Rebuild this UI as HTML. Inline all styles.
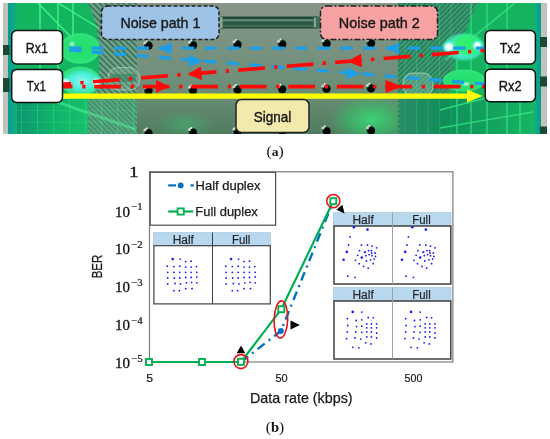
<!DOCTYPE html>
<html><head><meta charset="utf-8">
<style>
html,body{margin:0;padding:0;background:#fff;}
body{width:550px;height:439px;overflow:hidden;position:relative;}
svg{position:absolute;left:0;top:0;display:block;}
.s{font-family:"Liberation Sans",sans-serif;}
.r{font-family:"Liberation Serif",serif;}
</style></head><body>
<svg width="550" height="439" viewBox="0 0 550 439">
<defs>
  <clipPath id="ph"><rect x="3" y="3" width="544" height="131"/></clipPath>
  <pattern id="hatchL" width="4.2" height="4.2" patternUnits="userSpaceOnUse" patternTransform="rotate(-45)">
    <rect width="4.2" height="4.2" fill="#72a088"/>
    <rect width="1.7" height="4.2" fill="#3a7459"/>
  </pattern>
  <pattern id="hatchL2" width="3.6" height="3.6" patternUnits="userSpaceOnUse" patternTransform="rotate(-45)">
    <rect width="3.6" height="3.6" fill="#5aa882"/>
    <rect width="1.4" height="3.6" fill="#3a8a66"/>
  </pattern>
  <pattern id="hatchR" width="3.6" height="3.6" patternUnits="userSpaceOnUse" patternTransform="rotate(45)">
    <rect width="3.6" height="3.6" fill="#3d9c72"/>
    <rect width="1.5" height="3.6" fill="#257a58"/>
  </pattern>
  <pattern id="gridR" width="11.5" height="40" patternUnits="userSpaceOnUse" x="2">
    <rect width="1" height="40" fill="#50f098" opacity=".35"/>
  </pattern>
  <pattern id="grid" width="16" height="12" patternUnits="userSpaceOnUse" x="5" y="2">
    <rect width="1" height="12" fill="#40f08a" opacity=".35"/>
    <rect width="16" height="1" fill="#40f08a" opacity=".18"/>
  </pattern>
  <pattern id="diagL" width="40" height="40" patternUnits="userSpaceOnUse" patternTransform="rotate(40)">
    <rect width="1.5" height="40" fill="#50ff90" opacity=".6"/>
  </pattern>
  <pattern id="diagR" width="34" height="34" patternUnits="userSpaceOnUse" patternTransform="rotate(-35)">
    <rect width="1.5" height="34" fill="#50ff90" opacity=".55"/>
  </pattern>
  <linearGradient id="lowL" x1="0" y1="0" x2="1" y2="0">
    <stop offset="0" stop-color="#0b8a78"/><stop offset=".2" stop-color="#0c9870"/><stop offset=".6" stop-color="#10b46a"/><stop offset="1" stop-color="#16c06c"/>
  </linearGradient>
  <linearGradient id="lowR" x1="0" y1="0" x2="1" y2="0">
    <stop offset="0" stop-color="#2a8a66"/><stop offset=".35" stop-color="#0f8f5a"/><stop offset="1" stop-color="#17b664"/>
  </linearGradient>
  <linearGradient id="tealL" x1="0" y1="0" x2="1" y2="0">
    <stop offset="0" stop-color="#0a9c98"/><stop offset="1" stop-color="#12b07a"/>
  </linearGradient>
  <linearGradient id="tealR" x1="0" y1="0" x2="1" y2="0">
    <stop offset="0" stop-color="#12b27a"/><stop offset="1" stop-color="#0a9a92"/>
  </linearGradient>
  <radialGradient id="glow" cx="50%" cy="50%" r="50%">
    <stop offset="0" stop-color="#ffffff"/>
    <stop offset=".4" stop-color="#e8fffa"/>
    <stop offset=".7" stop-color="#60f5e0" stop-opacity=".8"/>
    <stop offset="1" stop-color="#30e8b0" stop-opacity="0"/>
  </radialGradient>
  <radialGradient id="gblob" cx="50%" cy="50%" r="50%">
    <stop offset="0" stop-color="#22dc6c"/>
    <stop offset=".8" stop-color="#28e272"/>
    <stop offset=".92" stop-color="#40ec88" stop-opacity=".8"/>
    <stop offset="1" stop-color="#30e07a" stop-opacity="0"/>
  </radialGradient>
  <radialGradient id="gblobB" cx="50%" cy="50%" r="50%">
    <stop offset="0" stop-color="#2ef06e"/>
    <stop offset=".7" stop-color="#2ef06e" stop-opacity=".9"/>
    <stop offset="1" stop-color="#2ef06e" stop-opacity="0"/>
  </radialGradient>
  <radialGradient id="cblob" cx="50%" cy="50%" r="50%">
    <stop offset="0" stop-color="#8ff8ee"/>
    <stop offset=".55" stop-color="#4ef0dc"/>
    <stop offset=".8" stop-color="#40e8c0" stop-opacity=".8"/>
    <stop offset="1" stop-color="#40e0b0" stop-opacity="0"/>
  </radialGradient>
  <radialGradient id="gglow2" cx="50%" cy="50%" r="50%">
    <stop offset="0" stop-color="#3ad874" stop-opacity=".95"/>
    <stop offset=".5" stop-color="#34c86c" stop-opacity=".6"/>
    <stop offset="1" stop-color="#30c068" stop-opacity="0"/>
  </radialGradient>
  <radialGradient id="gglow" cx="50%" cy="50%" r="50%">
    <stop offset="0" stop-color="#30d878" stop-opacity=".7"/>
    <stop offset="1" stop-color="#30d878" stop-opacity="0"/>
  </radialGradient>
  <linearGradient id="plate" x1="0" y1="0" x2="0" y2="1">
    <stop offset="0" stop-color="#879588"/>
    <stop offset=".3" stop-color="#7a9282"/>
    <stop offset=".55" stop-color="#70907a"/>
    <stop offset=".75" stop-color="#668a70"/>
    <stop offset="1" stop-color="#4f7c5e"/>
  </linearGradient>
  <linearGradient id="plateH" x1="0" y1="0" x2="1" y2="0">
    <stop offset="0" stop-color="#000" stop-opacity="0"/>
    <stop offset="1" stop-color="#000" stop-opacity="0"/>
  </linearGradient>
</defs>

<!-- ============ PHOTO ============ -->
<g clip-path="url(#ph)">
  <rect x="3" y="3" width="544" height="131" fill="url(#plate)"/>
  <rect x="3" y="3" width="544" height="131" fill="url(#plateH)"/>
  <!-- green glow on plate bottom right -->
  <ellipse cx="372" cy="120" rx="44" ry="26" fill="url(#gglow2)"/>
  <ellipse cx="185" cy="125" rx="30" ry="15" fill="url(#gglow)" opacity=".5"/>
  <!-- left hatched zone -->
  <path d="M84 3 H137 V134 H80 Z" fill="url(#hatchL)"/>
  <!-- left green upper -->
  <path d="M3 3 H88 C96 20 100 40 99 60 C100 75 98 90 92 100 L3 100 Z" fill="#14b561"/>
  <g stroke="#44ff8c" stroke-width="1.4" opacity=".85" fill="none">
    <line x1="40" y1="3" x2="40" y2="100"/><line x1="58" y1="3" x2="58" y2="100"/><line x1="73" y1="3" x2="73" y2="40"/>
    <line x1="38" y1="3" x2="72" y2="38"/><line x1="58" y1="3" x2="99" y2="28"/><line x1="15" y1="60" x2="45" y2="30"/>
  </g>
  
  <!-- left lower -->
  <rect x="3" y="98" width="86" height="36" fill="url(#lowL)"/>
  <rect x="88" y="98" width="49" height="36" fill="url(#hatchL2)"/>
  <path d="M50 98 L136 128 L136 131 L50 101 Z" fill="#5cff9c" opacity=".45"/>
  <rect x="3" y="98" width="134" height="36" fill="url(#grid)"/>
  <rect x="8" y="3" width="9" height="131" fill="url(#tealL)"/>
  <rect x="3" y="3" width="5" height="131" fill="#c0c4bc"/>
  <rect x="3" y="45" width="6.5" height="10" fill="#1a4a34"/>
  <rect x="3" y="78" width="6.5" height="14" fill="#1a4a34"/>
  <!-- right hatched zone -->
  <path d="M398 3 H478 C466 30 452 60 448 100 L446 134 H398 Z" fill="url(#hatchR)"/>
  <!-- right green -->
  <path d="M478 3 H547 V134 H444 C448 100 452 60 466 30 Z" fill="#15b35f"/>
  <rect x="400" y="98" width="135" height="36" fill="url(#lowR)"/>

  <g stroke="#3cf58a" stroke-width="1.3" opacity=".7" fill="none">
    <line x1="471" y1="3" x2="471" y2="134"/><line x1="487" y1="3" x2="487" y2="134"/><line x1="507" y1="3" x2="507" y2="134"/><line x1="457" y1="60" x2="457" y2="134"/><line x1="520" y1="95" x2="520" y2="134"/>
    <line x1="445" y1="60" x2="515" y2="3"/><line x1="440" y1="128" x2="533" y2="112"/><line x1="440" y1="110" x2="490" y2="97"/>
  </g>
  <rect x="398" y="3" width="60" height="131" fill="url(#gridR)" opacity=".6"/>
  <rect x="534" y="3" width="7" height="131" fill="url(#tealR)"/>
  <rect x="541" y="3" width="6" height="131" fill="#c0c4bc"/>
  <rect x="540" y="37" width="7" height="10" fill="#1a4a34"/>
  <rect x="540" y="76.5" width="7" height="10" fill="#1a4a34"/>
  <rect x="540" y="126.5" width="7" height="8" fill="#1a4a34"/>
  <!-- rod -->
  <rect x="220" y="16.6" width="98" height="12" rx="1" fill="#1f4c38"/>
  <rect x="221" y="19.2" width="96" height="2.2" fill="#6a8c7a"/>
  <rect x="221" y="22" width="96" height="3.2" fill="#2b5a44"/>
  <rect x="221" y="25.4" width="96" height="1.2" fill="#5a7d6a"/>
  <rect x="220" y="17" width="2.5" height="11" fill="#8aa898"/>
  <rect x="313" y="16.6" width="7" height="12" fill="#3d6e58"/><rect x="314" y="18" width="2" height="9" fill="#9ac0aa" opacity=".7"/>
  <!-- LED glows left -->
  <ellipse cx="80" cy="48.5" rx="21" ry="16" fill="url(#gblob)"/>
  <ellipse cx="80" cy="81" rx="21" ry="15" fill="url(#gblob)"/>
  <ellipse cx="82" cy="81.5" rx="21" ry="13.5" fill="url(#cblob)"/>
  <ellipse cx="66" cy="83" rx="7" ry="6.5" fill="url(#glow)"/>
  <ellipse cx="96" cy="82" rx="6" ry="6" fill="url(#glow)"/>
  <ellipse cx="72" cy="44" rx="4" ry="4" fill="url(#glow)" opacity=".5"/>
  <!-- LED glows right -->
  <ellipse cx="464" cy="47" rx="22" ry="15" fill="url(#cblob)"/>
  <ellipse cx="467" cy="45" rx="17" ry="12" fill="url(#gblobB)"/>
  <ellipse cx="464" cy="80.5" rx="22" ry="11.5" fill="url(#gblob)"/>
  <ellipse cx="449" cy="47" rx="7.5" ry="7" fill="url(#glow)"/>
  <ellipse cx="477.5" cy="45.5" rx="6.5" ry="6" fill="url(#glow)"/>
  <ellipse cx="466" cy="84" rx="5" ry="3" fill="url(#glow)" opacity=".6"/>
  <!-- glass LEDs -->
  <rect x="108" y="67.5" width="31.7" height="22.5" rx="10" fill="#8fc0a8" fill-opacity=".3" stroke="#d0eadf" stroke-width=".9" stroke-opacity=".55"/>
  <rect x="110" y="74" width="26" height="8" rx="3" fill="#2a7a58" opacity=".5"/>
  <rect x="403" y="73" width="30" height="23" rx="10" fill="#a8d2c0" fill-opacity=".3" stroke="#e0f2ea" stroke-width=".8" stroke-opacity=".7"/>
  <!-- holes -->
  <g><circle cx="148" cy="45.2" r="5.2" fill="#b0c2b6" opacity=".5"/><circle cx="148.3" cy="45.4" r="4.6" fill="#174a32"/><circle cx="148.8" cy="45.8" r="3.6" fill="#030504"/><circle cx="145" cy="42.7" r="1.5" fill="#dfe9e2" opacity=".85"/><circle cx="146.8" cy="41.0" r="1" fill="#eef4f0"/><circle cx="192.5" cy="44.7" r="5.2" fill="#b0c2b6" opacity=".5"/><circle cx="192.8" cy="44.9" r="4.6" fill="#174a32"/><circle cx="193.3" cy="45.3" r="3.6" fill="#030504"/><circle cx="189.5" cy="42.2" r="1.5" fill="#dfe9e2" opacity=".85"/><circle cx="191.3" cy="40.5" r="1" fill="#eef4f0"/><circle cx="237" cy="44.2" r="5.2" fill="#b0c2b6" opacity=".5"/><circle cx="237.3" cy="44.4" r="4.6" fill="#174a32"/><circle cx="237.8" cy="44.8" r="3.6" fill="#030504"/><circle cx="234" cy="41.7" r="1.5" fill="#dfe9e2" opacity=".85"/><circle cx="235.8" cy="40.0" r="1" fill="#eef4f0"/><circle cx="281.7" cy="43.7" r="5.2" fill="#b0c2b6" opacity=".5"/><circle cx="282.0" cy="43.9" r="4.6" fill="#174a32"/><circle cx="282.5" cy="44.3" r="3.6" fill="#030504"/><circle cx="278.7" cy="41.2" r="1.5" fill="#dfe9e2" opacity=".85"/><circle cx="280.5" cy="39.5" r="1" fill="#eef4f0"/><circle cx="326" cy="43.2" r="5.2" fill="#b0c2b6" opacity=".5"/><circle cx="326.3" cy="43.4" r="4.6" fill="#174a32"/><circle cx="326.8" cy="43.8" r="3.6" fill="#030504"/><circle cx="323" cy="40.7" r="1.5" fill="#dfe9e2" opacity=".85"/><circle cx="324.8" cy="39.0" r="1" fill="#eef4f0"/><circle cx="370.5" cy="42.8" r="5.2" fill="#b0c2b6" opacity=".5"/><circle cx="370.8" cy="43.0" r="4.6" fill="#174a32"/><circle cx="371.3" cy="43.4" r="3.6" fill="#030504"/><circle cx="367.5" cy="40.3" r="1.5" fill="#dfe9e2" opacity=".85"/><circle cx="369.3" cy="38.6" r="1" fill="#eef4f0"/><circle cx="148" cy="90.2" r="5.2" fill="#b0c2b6" opacity=".5"/><circle cx="148.3" cy="90.4" r="4.6" fill="#174a32"/><circle cx="148.8" cy="90.8" r="3.6" fill="#030504"/><circle cx="145" cy="87.7" r="1.5" fill="#dfe9e2" opacity=".85"/><circle cx="146.8" cy="86.0" r="1" fill="#eef4f0"/><circle cx="192.5" cy="89.8" r="5.2" fill="#b0c2b6" opacity=".5"/><circle cx="192.8" cy="90.0" r="4.6" fill="#174a32"/><circle cx="193.3" cy="90.4" r="3.6" fill="#030504"/><circle cx="189.5" cy="87.3" r="1.5" fill="#dfe9e2" opacity=".85"/><circle cx="191.3" cy="85.6" r="1" fill="#eef4f0"/><circle cx="237" cy="89.3" r="5.2" fill="#b0c2b6" opacity=".5"/><circle cx="237.3" cy="89.5" r="4.6" fill="#174a32"/><circle cx="237.8" cy="89.9" r="3.6" fill="#030504"/><circle cx="234" cy="86.8" r="1.5" fill="#dfe9e2" opacity=".85"/><circle cx="235.8" cy="85.1" r="1" fill="#eef4f0"/><circle cx="281.7" cy="88.9" r="5.2" fill="#b0c2b6" opacity=".5"/><circle cx="282.0" cy="89.1" r="4.6" fill="#174a32"/><circle cx="282.5" cy="89.5" r="3.6" fill="#030504"/><circle cx="278.7" cy="86.4" r="1.5" fill="#dfe9e2" opacity=".85"/><circle cx="280.5" cy="84.7" r="1" fill="#eef4f0"/><circle cx="326" cy="88.4" r="5.2" fill="#b0c2b6" opacity=".5"/><circle cx="326.3" cy="88.6" r="4.6" fill="#174a32"/><circle cx="326.8" cy="89.0" r="3.6" fill="#030504"/><circle cx="323" cy="85.9" r="1.5" fill="#dfe9e2" opacity=".85"/><circle cx="324.8" cy="84.2" r="1" fill="#eef4f0"/><circle cx="370.5" cy="88.0" r="5.2" fill="#b0c2b6" opacity=".5"/><circle cx="370.8" cy="88.2" r="4.6" fill="#174a32"/><circle cx="371.3" cy="88.6" r="3.6" fill="#030504"/><circle cx="367.5" cy="85.5" r="1.5" fill="#dfe9e2" opacity=".85"/><circle cx="369.3" cy="83.8" r="1" fill="#eef4f0"/><circle cx="148" cy="132.6" r="5.2" fill="#b0c2b6" opacity=".5"/><circle cx="148.3" cy="132.8" r="4.6" fill="#174a32"/><circle cx="148.8" cy="133.2" r="3.6" fill="#030504"/><circle cx="145" cy="130.1" r="1.5" fill="#dfe9e2" opacity=".85"/><circle cx="146.8" cy="128.4" r="1" fill="#eef4f0"/><circle cx="192.5" cy="132.1" r="5.2" fill="#b0c2b6" opacity=".5"/><circle cx="192.8" cy="132.3" r="4.6" fill="#174a32"/><circle cx="193.3" cy="132.7" r="3.6" fill="#030504"/><circle cx="189.5" cy="129.6" r="1.5" fill="#dfe9e2" opacity=".85"/><circle cx="191.3" cy="127.9" r="1" fill="#eef4f0"/><circle cx="237" cy="131.6" r="5.2" fill="#b0c2b6" opacity=".5"/><circle cx="237.3" cy="131.8" r="4.6" fill="#174a32"/><circle cx="237.8" cy="132.2" r="3.6" fill="#030504"/><circle cx="234" cy="129.1" r="1.5" fill="#dfe9e2" opacity=".85"/><circle cx="235.8" cy="127.4" r="1" fill="#eef4f0"/><circle cx="281.7" cy="131.1" r="5.2" fill="#b0c2b6" opacity=".5"/><circle cx="282.0" cy="131.3" r="4.6" fill="#174a32"/><circle cx="282.5" cy="131.7" r="3.6" fill="#030504"/><circle cx="278.7" cy="128.6" r="1.5" fill="#dfe9e2" opacity=".85"/><circle cx="280.5" cy="126.9" r="1" fill="#eef4f0"/><circle cx="326" cy="130.6" r="5.2" fill="#b0c2b6" opacity=".5"/><circle cx="326.3" cy="130.8" r="4.6" fill="#174a32"/><circle cx="326.8" cy="131.2" r="3.6" fill="#030504"/><circle cx="323" cy="128.1" r="1.5" fill="#dfe9e2" opacity=".85"/><circle cx="324.8" cy="126.4" r="1" fill="#eef4f0"/><circle cx="370.5" cy="130.2" r="5.2" fill="#b0c2b6" opacity=".5"/><circle cx="370.8" cy="130.4" r="4.6" fill="#174a32"/><circle cx="371.3" cy="130.8" r="3.6" fill="#030504"/><circle cx="367.5" cy="127.7" r="1.5" fill="#dfe9e2" opacity=".85"/><circle cx="369.3" cy="126.0" r="1" fill="#eef4f0"/></g>

</g>

<!-- arrows -->
<g fill="none" stroke-linecap="butt">
  <line x1="69" y1="48.2" x2="485" y2="48.2" stroke="#1d9ee6" stroke-width="3.2" stroke-dasharray="12.3 10.3"/>
  <line x1="69" y1="50" x2="485" y2="84" stroke="#1d9ee6" stroke-width="3.2" stroke-dasharray="12.3 10.3"/>
  <line x1="484" y1="50.5" x2="62" y2="84.2" stroke="#ff0a0a" stroke-width="3.6" stroke-dasharray="26.7 9.3 3.3 9.3" stroke-dashoffset="23.2"/>
  <line x1="62" y1="86.6" x2="485" y2="86.6" stroke="#ff0a0a" stroke-width="3.6" stroke-dasharray="26.7 9.7 3.3 8.8" stroke-dashoffset="16.2"/>
  <line x1="62" y1="96.1" x2="469" y2="96.1" stroke="#ffff00" stroke-width="5.2"/>
</g>
<g>
  <polygon points="482.5,96.1 467,89.6 467,102.6" fill="#ffff00"/>
  <polygon points="157.5,48.2 171.5,42.4 171.5,54" fill="#1d9ee6"/>
  <polygon points="385,48.2 399,42.4 399,54" fill="#1d9ee6"/>
  <polygon points="202.7,60.9 189.5,54.7 189,66.7" fill="#1d9ee6"/>
  <polygon points="360.5,73.8 347,67.6 346.5,79.6" fill="#1d9ee6"/>
  <polygon points="187.5,74.2 201,66.6 202,80" fill="#ff0a0a"/>
  <polygon points="347.2,61.4 361,53.8 362,67.2" fill="#ff0a0a"/>
  <polygon points="169.5,86.6 156,80.1 156,93.1" fill="#ff0a0a"/>
  <polygon points="402,86.6 385.5,80.1 385.5,93.1" fill="#ff0a0a"/>
</g>

<!-- labels on photo -->
<g class="s" font-size="14.4" text-anchor="middle" fill="#1a1a1a" stroke="#1a1a1a" stroke-width="0.4">
  <rect x="11.7" y="30.6" width="50.8" height="33.3" rx="5" fill="#fff" stroke="#111" stroke-width="1.5"/>
  <text x="36.85" y="53" textLength="22" lengthAdjust="spacingAndGlyphs">Rx1</text>
  <rect x="11.7" y="69.4" width="50.8" height="33" rx="5" fill="#fff" stroke="#111" stroke-width="1.5"/>
  <text x="36.3" y="90.5" textLength="19.2" lengthAdjust="spacingAndGlyphs">Tx1</text>
  <rect x="485.2" y="30.6" width="50.2" height="33.3" rx="5" fill="#fff" stroke="#111" stroke-width="1.5"/>
  <text x="510" y="53" textLength="20.6" lengthAdjust="spacingAndGlyphs">Tx2</text>
  <rect x="485.2" y="69.3" width="50.2" height="32.5" rx="5" fill="#fff" stroke="#111" stroke-width="1.5"/>
  <text x="510.2" y="91" textLength="22.8" lengthAdjust="spacingAndGlyphs">Rx2</text>
  <rect x="101.5" y="6" width="117.5" height="33.5" rx="6" fill="#9dc3e6" stroke="#222" stroke-width="1.5" stroke-dasharray="4 2"/>
  <text x="160.4" y="28" font-size="14.3" textLength="80" lengthAdjust="spacingAndGlyphs">Noise path 1</text>
  <rect x="320.5" y="6" width="117" height="33.5" rx="6" fill="#f6a2a2" stroke="#222" stroke-width="1.5" stroke-dasharray="6 2 2 2"/>
  <text x="379.3" y="28" font-size="14.3" textLength="81" lengthAdjust="spacingAndGlyphs">Noise path 2</text>
  <rect x="236" y="99.5" width="73" height="33" rx="5.5" fill="#f2eaad" stroke="#222" stroke-width="1.5"/>
  <text x="272.5" y="121.6" font-size="14.3" textLength="37.5" lengthAdjust="spacingAndGlyphs">Signal</text>
</g>

<!-- (a) -->
<text class="r" x="275" y="156" font-size="15.5" text-anchor="middle" fill="#111">(<tspan font-weight="bold" font-size="13.5">a</tspan>)</text>

<!-- ============ CHART ============ -->
<g id="chart">
  <rect x="149.5" y="171.8" width="303.4" height="190.2" fill="#fff" stroke="#7d7d7d" stroke-width="1.2"/>
  <!-- legend -->
  <rect x="150.2" y="172.3" width="125.4" height="52.9" fill="#fff" stroke="#4d4d4d" stroke-width="1.2"/>
  <line x1="168.2" y1="185.4" x2="176" y2="185.4" stroke="#0070c0" stroke-width="2.2"/>
  <circle cx="180.7" cy="185.4" r="2.9" fill="#0070c0"/>
  <line x1="190.5" y1="185.4" x2="193.8" y2="185.4" stroke="#0070c0" stroke-width="2.2"/>
  <line x1="168.2" y1="211.5" x2="193.2" y2="211.5" stroke="#00b050" stroke-width="2.2"/>
  <rect x="177.6" y="208.4" width="6.2" height="6.2" fill="#fff" stroke="#00b050" stroke-width="1.8"/>
  <g class="s" font-size="13" fill="#1a1a1a" stroke="#1a1a1a" stroke-width="0.25">
    <text x="195.6" y="190" textLength="64.8" lengthAdjust="spacingAndGlyphs">Half duplex</text>
    <text x="195.3" y="216.2" textLength="62.5" lengthAdjust="spacingAndGlyphs">Full duplex</text>
  </g>
  <!-- insets -->
  <g>
    <rect x="153.4" y="232.5" width="117.1" height="13.2" fill="#b8d8f0" stroke="#a9bfd0" stroke-width=".6"/>
    <rect x="153.9" y="245.7" width="116.4" height="58.2" fill="#fff" stroke="#404040" stroke-width="1.2"/>
    <line x1="212.5" y1="232.5" x2="212.5" y2="303.9" stroke="#404040" stroke-width="1"/>

    <rect x="333.4" y="212.5" width="117.6" height="13.5" fill="#b8d8f0" stroke="#a9bfd0" stroke-width=".6"/>
    <rect x="334" y="226" width="116.8" height="58" fill="#fff" stroke="#404040" stroke-width="1.5"/>
    <line x1="392.5" y1="212.5" x2="392.5" y2="284" stroke="#a0a0a0" stroke-width="1"/>

    <rect x="333.4" y="287.5" width="117.6" height="13.5" fill="#b8d8f0" stroke="#a9bfd0" stroke-width=".6"/>
    <rect x="334" y="301" width="116.8" height="58" fill="#fff" stroke="#404040" stroke-width="1.5"/>
    <line x1="392.5" y1="287.5" x2="392.5" y2="359" stroke="#a0a0a0" stroke-width="1"/>
  </g>
  <g class="s" font-size="12" fill="#262626" stroke="#262626" stroke-width="0.2" text-anchor="middle">
    <text x="183.3" y="243.9" textLength="21.3" lengthAdjust="spacingAndGlyphs">Half</text><text x="241.2" y="243.9" textLength="18.4" lengthAdjust="spacingAndGlyphs">Full</text>
    <text x="363.1" y="223.6" textLength="21.3" lengthAdjust="spacingAndGlyphs">Half</text><text x="421.5" y="223.6" textLength="18.4" lengthAdjust="spacingAndGlyphs">Full</text>
    <text x="363.1" y="298.9" textLength="21.3" lengthAdjust="spacingAndGlyphs">Half</text><text x="421.5" y="298.9" textLength="18.4" lengthAdjust="spacingAndGlyphs">Full</text>
  </g>
  <g fill="#1a1aff"><circle cx="172.7" cy="259.1" r="1.3"/><circle cx="180.2" cy="259.1" r="0.9"/><circle cx="185.7" cy="261.6" r="0.9"/><circle cx="191.1" cy="261.2" r="0.9"/><circle cx="167.3" cy="266.2" r="0.9"/><circle cx="173.9" cy="266.6" r="0.9"/><circle cx="179.8" cy="266.2" r="0.9"/><circle cx="185.7" cy="267.1" r="0.9"/><circle cx="191.1" cy="267.1" r="0.9"/><circle cx="196.4" cy="266.6" r="0.9"/><circle cx="167.7" cy="272.3" r="0.9"/><circle cx="173.9" cy="272.3" r="0.9"/><circle cx="179.8" cy="272.3" r="0.9"/><circle cx="185.7" cy="272.3" r="0.9"/><circle cx="191.1" cy="272.3" r="0.9"/><circle cx="196.8" cy="272.3" r="0.9"/><circle cx="167.7" cy="278.0" r="0.9"/><circle cx="174.3" cy="278.0" r="0.9"/><circle cx="179.8" cy="278.0" r="0.9"/><circle cx="185.7" cy="277.5" r="0.9"/><circle cx="191.1" cy="277.5" r="0.9"/><circle cx="196.8" cy="276.9" r="0.9"/><circle cx="167.7" cy="283.9" r="0.9"/><circle cx="175.0" cy="283.5" r="0.9"/><circle cx="180.5" cy="283.9" r="0.9"/><circle cx="186.4" cy="282.8" r="0.9"/><circle cx="191.6" cy="282.3" r="0.9"/><circle cx="196.8" cy="282.8" r="0.9"/><circle cx="173.9" cy="290.7" r="0.9"/><circle cx="179.3" cy="290.7" r="0.9"/><circle cx="185.7" cy="288.7" r="0.9"/><circle cx="192.0" cy="288.7" r="0.9"/><circle cx="231.1" cy="259.1" r="1.3"/><circle cx="238.6" cy="259.1" r="0.9"/><circle cx="244.1" cy="261.6" r="0.9"/><circle cx="249.5" cy="261.2" r="0.9"/><circle cx="225.7" cy="266.2" r="0.9"/><circle cx="232.3" cy="266.6" r="0.9"/><circle cx="238.2" cy="266.2" r="0.9"/><circle cx="244.1" cy="267.1" r="0.9"/><circle cx="249.5" cy="267.1" r="0.9"/><circle cx="254.8" cy="266.6" r="0.9"/><circle cx="226.1" cy="272.3" r="0.9"/><circle cx="232.3" cy="272.3" r="0.9"/><circle cx="238.2" cy="272.3" r="0.9"/><circle cx="244.1" cy="272.3" r="0.9"/><circle cx="249.5" cy="272.3" r="0.9"/><circle cx="255.2" cy="272.3" r="0.9"/><circle cx="226.1" cy="278.0" r="0.9"/><circle cx="232.7" cy="278.0" r="0.9"/><circle cx="238.2" cy="278.0" r="0.9"/><circle cx="244.1" cy="277.5" r="0.9"/><circle cx="249.5" cy="277.5" r="0.9"/><circle cx="255.2" cy="276.9" r="0.9"/><circle cx="226.1" cy="283.9" r="0.9"/><circle cx="233.4" cy="283.5" r="0.9"/><circle cx="238.9" cy="283.9" r="0.9"/><circle cx="244.8" cy="282.8" r="0.9"/><circle cx="250.0" cy="282.3" r="0.9"/><circle cx="255.2" cy="282.8" r="0.9"/><circle cx="232.3" cy="290.7" r="0.9"/><circle cx="237.7" cy="290.7" r="0.9"/><circle cx="244.1" cy="288.7" r="0.9"/><circle cx="250.5" cy="288.7" r="0.9"/><circle cx="353.9" cy="227.3" r="1.3"/><circle cx="367.5" cy="229.6" r="1.3"/><circle cx="350.0" cy="236.9" r="0.9"/><circle cx="348.6" cy="245.0" r="0.9"/><circle cx="361.4" cy="245.0" r="0.9"/><circle cx="367.5" cy="245.0" r="0.9"/><circle cx="372.0" cy="246.2" r="0.9"/><circle cx="376.6" cy="247.8" r="0.9"/><circle cx="346.8" cy="251.9" r="1.3"/><circle cx="359.5" cy="250.7" r="0.9"/><circle cx="365.2" cy="251.9" r="0.9"/><circle cx="368.6" cy="250.7" r="0.9"/><circle cx="371.4" cy="250.7" r="0.9"/><circle cx="375.0" cy="253.0" r="0.9"/><circle cx="357.7" cy="255.3" r="0.9"/><circle cx="361.8" cy="257.5" r="1.3"/><circle cx="365.9" cy="255.7" r="0.9"/><circle cx="369.1" cy="254.6" r="0.9"/><circle cx="372.0" cy="255.7" r="0.9"/><circle cx="375.5" cy="256.4" r="0.9"/><circle cx="343.6" cy="259.8" r="1.3"/><circle cx="355.5" cy="260.3" r="0.9"/><circle cx="366.4" cy="261.0" r="0.9"/><circle cx="370.5" cy="259.8" r="0.9"/><circle cx="374.3" cy="259.1" r="0.9"/><circle cx="359.1" cy="263.7" r="0.9"/><circle cx="363.6" cy="266.4" r="0.9"/><circle cx="373.2" cy="263.7" r="0.9"/><circle cx="368.2" cy="268.2" r="0.9"/><circle cx="347.7" cy="276.2" r="0.9"/><circle cx="355.0" cy="277.3" r="0.9"/><circle cx="364.5" cy="252.3" r="0.9"/><circle cx="371.6" cy="253.0" r="0.9"/><circle cx="412.3" cy="227.3" r="1.3"/><circle cx="425.9" cy="229.6" r="1.3"/><circle cx="408.4" cy="236.9" r="0.9"/><circle cx="407.0" cy="245.0" r="0.9"/><circle cx="419.8" cy="245.0" r="0.9"/><circle cx="425.9" cy="245.0" r="0.9"/><circle cx="430.5" cy="246.2" r="0.9"/><circle cx="435.0" cy="247.8" r="0.9"/><circle cx="405.2" cy="251.9" r="1.3"/><circle cx="418.0" cy="250.7" r="0.9"/><circle cx="423.6" cy="251.9" r="0.9"/><circle cx="427.0" cy="250.7" r="0.9"/><circle cx="429.8" cy="250.7" r="0.9"/><circle cx="433.4" cy="253.0" r="0.9"/><circle cx="416.1" cy="255.3" r="0.9"/><circle cx="420.2" cy="257.5" r="1.3"/><circle cx="424.3" cy="255.7" r="0.9"/><circle cx="427.5" cy="254.6" r="0.9"/><circle cx="430.5" cy="255.7" r="0.9"/><circle cx="433.9" cy="256.4" r="0.9"/><circle cx="402.0" cy="259.8" r="1.3"/><circle cx="413.9" cy="260.3" r="0.9"/><circle cx="424.8" cy="261.0" r="0.9"/><circle cx="428.9" cy="259.8" r="0.9"/><circle cx="432.7" cy="259.1" r="0.9"/><circle cx="417.5" cy="263.7" r="0.9"/><circle cx="422.0" cy="266.4" r="0.9"/><circle cx="431.6" cy="263.7" r="0.9"/><circle cx="426.6" cy="268.2" r="0.9"/><circle cx="406.1" cy="276.2" r="0.9"/><circle cx="413.4" cy="277.3" r="0.9"/><circle cx="423.0" cy="252.3" r="0.9"/><circle cx="430.0" cy="253.0" r="0.9"/><circle cx="352.7" cy="311.9" r="1.3"/><circle cx="361.8" cy="312.1" r="0.9"/><circle cx="347.3" cy="318.7" r="0.9"/><circle cx="356.1" cy="320.5" r="0.9"/><circle cx="361.8" cy="319.8" r="0.9"/><circle cx="368.2" cy="317.5" r="0.9"/><circle cx="373.2" cy="317.8" r="0.9"/><circle cx="347.7" cy="325.5" r="0.9"/><circle cx="356.6" cy="326.6" r="0.9"/><circle cx="361.8" cy="326.2" r="0.9"/><circle cx="366.8" cy="323.9" r="0.9"/><circle cx="371.4" cy="323.9" r="0.9"/><circle cx="376.6" cy="323.9" r="0.9"/><circle cx="347.3" cy="331.9" r="0.9"/><circle cx="355.7" cy="331.9" r="0.9"/><circle cx="361.8" cy="332.3" r="0.9"/><circle cx="366.8" cy="327.8" r="0.9"/><circle cx="371.4" cy="327.8" r="0.9"/><circle cx="376.6" cy="327.8" r="0.9"/><circle cx="366.8" cy="331.9" r="0.9"/><circle cx="371.4" cy="331.9" r="0.9"/><circle cx="376.6" cy="333.0" r="0.9"/><circle cx="346.6" cy="338.7" r="0.9"/><circle cx="355.0" cy="338.0" r="0.9"/><circle cx="360.7" cy="339.1" r="0.9"/><circle cx="366.8" cy="336.9" r="0.9"/><circle cx="371.4" cy="336.9" r="0.9"/><circle cx="376.6" cy="338.0" r="0.9"/><circle cx="365.7" cy="342.8" r="0.9"/><circle cx="370.9" cy="343.9" r="0.9"/><circle cx="352.7" cy="347.3" r="0.9"/><circle cx="358.9" cy="347.8" r="0.9"/><circle cx="411.1" cy="311.9" r="1.3"/><circle cx="420.2" cy="312.1" r="0.9"/><circle cx="405.7" cy="318.7" r="0.9"/><circle cx="414.5" cy="320.5" r="0.9"/><circle cx="420.2" cy="319.8" r="0.9"/><circle cx="426.6" cy="317.5" r="0.9"/><circle cx="431.6" cy="317.8" r="0.9"/><circle cx="406.1" cy="325.5" r="0.9"/><circle cx="415.0" cy="326.6" r="0.9"/><circle cx="420.2" cy="326.2" r="0.9"/><circle cx="425.2" cy="323.9" r="0.9"/><circle cx="429.8" cy="323.9" r="0.9"/><circle cx="435.0" cy="323.9" r="0.9"/><circle cx="405.7" cy="331.9" r="0.9"/><circle cx="414.1" cy="331.9" r="0.9"/><circle cx="420.2" cy="332.3" r="0.9"/><circle cx="425.2" cy="327.8" r="0.9"/><circle cx="429.8" cy="327.8" r="0.9"/><circle cx="435.0" cy="327.8" r="0.9"/><circle cx="425.2" cy="331.9" r="0.9"/><circle cx="429.8" cy="331.9" r="0.9"/><circle cx="435.0" cy="333.0" r="0.9"/><circle cx="405.0" cy="338.7" r="0.9"/><circle cx="413.4" cy="338.0" r="0.9"/><circle cx="419.1" cy="339.1" r="0.9"/><circle cx="425.2" cy="336.9" r="0.9"/><circle cx="429.8" cy="336.9" r="0.9"/><circle cx="435.0" cy="338.0" r="0.9"/><circle cx="424.1" cy="342.8" r="0.9"/><circle cx="429.3" cy="343.9" r="0.9"/><circle cx="411.1" cy="347.3" r="0.9"/><circle cx="417.3" cy="347.8" r="0.9"/></g>
  <!-- data -->
  <polyline points="241,362 280.9,331 333.3,201.2" fill="none" stroke="#0070c0" stroke-width="2.4" stroke-dasharray="9 5 2 5"/>
  <polyline points="149,362 202,362 241,362 281.3,309.2 333.3,201.2" fill="none" stroke="#00b050" stroke-width="2.2"/>
  <circle cx="280.9" cy="331" r="3" fill="#0070c0"/>
  <g fill="#fff" stroke="#00b050" stroke-width="1.9">
    <rect x="146" y="359" width="6" height="6"/>
    <rect x="199" y="359" width="6" height="6"/>
    <rect x="238" y="358.8" width="6" height="6"/>
    <rect x="278.3" y="306.2" width="6" height="6"/>
    <rect x="330.3" y="198.2" width="6" height="6"/>
  </g>
  <g fill="none" stroke="#e8141c" stroke-width="1.6">
    <circle cx="240.9" cy="361.6" r="7"/>
    <circle cx="333.3" cy="201.1" r="6.6"/>
    <ellipse cx="280.9" cy="319.5" rx="6.8" ry="18.6" transform="rotate(2 280.9 319.5)"/>
  </g>
  <g fill="#000">
    <polygon points="241,345.6 245.3,353.3 236.7,353.3"/>
    <polygon points="299.8,325 290.5,320.5 290.5,329.5"/>
    <polygon points="344.6,213.6 336.4,209.8 342.4,204.8"/>
  </g>
  <!-- y labels -->
  <g class="r" font-size="14.8" fill="#111" stroke="#111" stroke-width="0.3" text-anchor="end">
    <text x="0" y="0" text-anchor="middle" transform="translate(133.7 177.1) scale(1.3 1)">1</text>
    <text x="130" y="216.5" textLength="15" lengthAdjust="spacingAndGlyphs">10</text>
    <text x="130" y="254.3" textLength="15" lengthAdjust="spacingAndGlyphs">10</text>
    <text x="130" y="292.1" textLength="15" lengthAdjust="spacingAndGlyphs">10</text>
    <text x="130" y="329.9" textLength="15" lengthAdjust="spacingAndGlyphs">10</text>
    <text x="130" y="367.7" textLength="15" lengthAdjust="spacingAndGlyphs">10</text>
  </g>
  <g class="r" font-size="9.6" fill="#111" stroke="#111" stroke-width="0.2">
    <text x="131.2" y="210.3" textLength="11.5" lengthAdjust="spacingAndGlyphs">−1</text>
    <text x="131.2" y="248.1" textLength="11.5" lengthAdjust="spacingAndGlyphs">−2</text>
    <text x="131.2" y="285.9" textLength="11.5" lengthAdjust="spacingAndGlyphs">−3</text>
    <text x="131.2" y="323.7" textLength="11.5" lengthAdjust="spacingAndGlyphs">−4</text>
    <text x="131.2" y="361.5" textLength="11.5" lengthAdjust="spacingAndGlyphs">−5</text>
  </g>
  <g class="s" font-size="11" fill="#1a1a1a" stroke="#1a1a1a" stroke-width="0.2" text-anchor="middle">
    <text x="0" y="0" transform="translate(149.7 381.6) scale(1.12 1)">5</text>
    <text x="281.6" y="381.6" textLength="12.2" lengthAdjust="spacingAndGlyphs">50</text>
    <text x="413.5" y="381.6" textLength="17.8" lengthAdjust="spacingAndGlyphs">500</text>
  </g>
  <text class="s" x="301.3" y="403.2" font-size="14.2" text-anchor="middle" fill="#1a1a1a" stroke="#1a1a1a" stroke-width="0.25" textLength="102.5" lengthAdjust="spacingAndGlyphs">Data rate (kbps)</text>
  <text class="s" x="0" y="0" font-size="14" text-anchor="middle" fill="#1a1a1a" stroke="#1a1a1a" stroke-width="0.25" textLength="23.7" lengthAdjust="spacingAndGlyphs" transform="translate(101.9 266.5) rotate(-90)">BER</text>
  <text class="r" x="275" y="431.5" font-size="15.5" text-anchor="middle" fill="#111">(<tspan font-weight="bold" font-size="14.5">b</tspan>)</text>
</g>
</svg>
</body></html>
